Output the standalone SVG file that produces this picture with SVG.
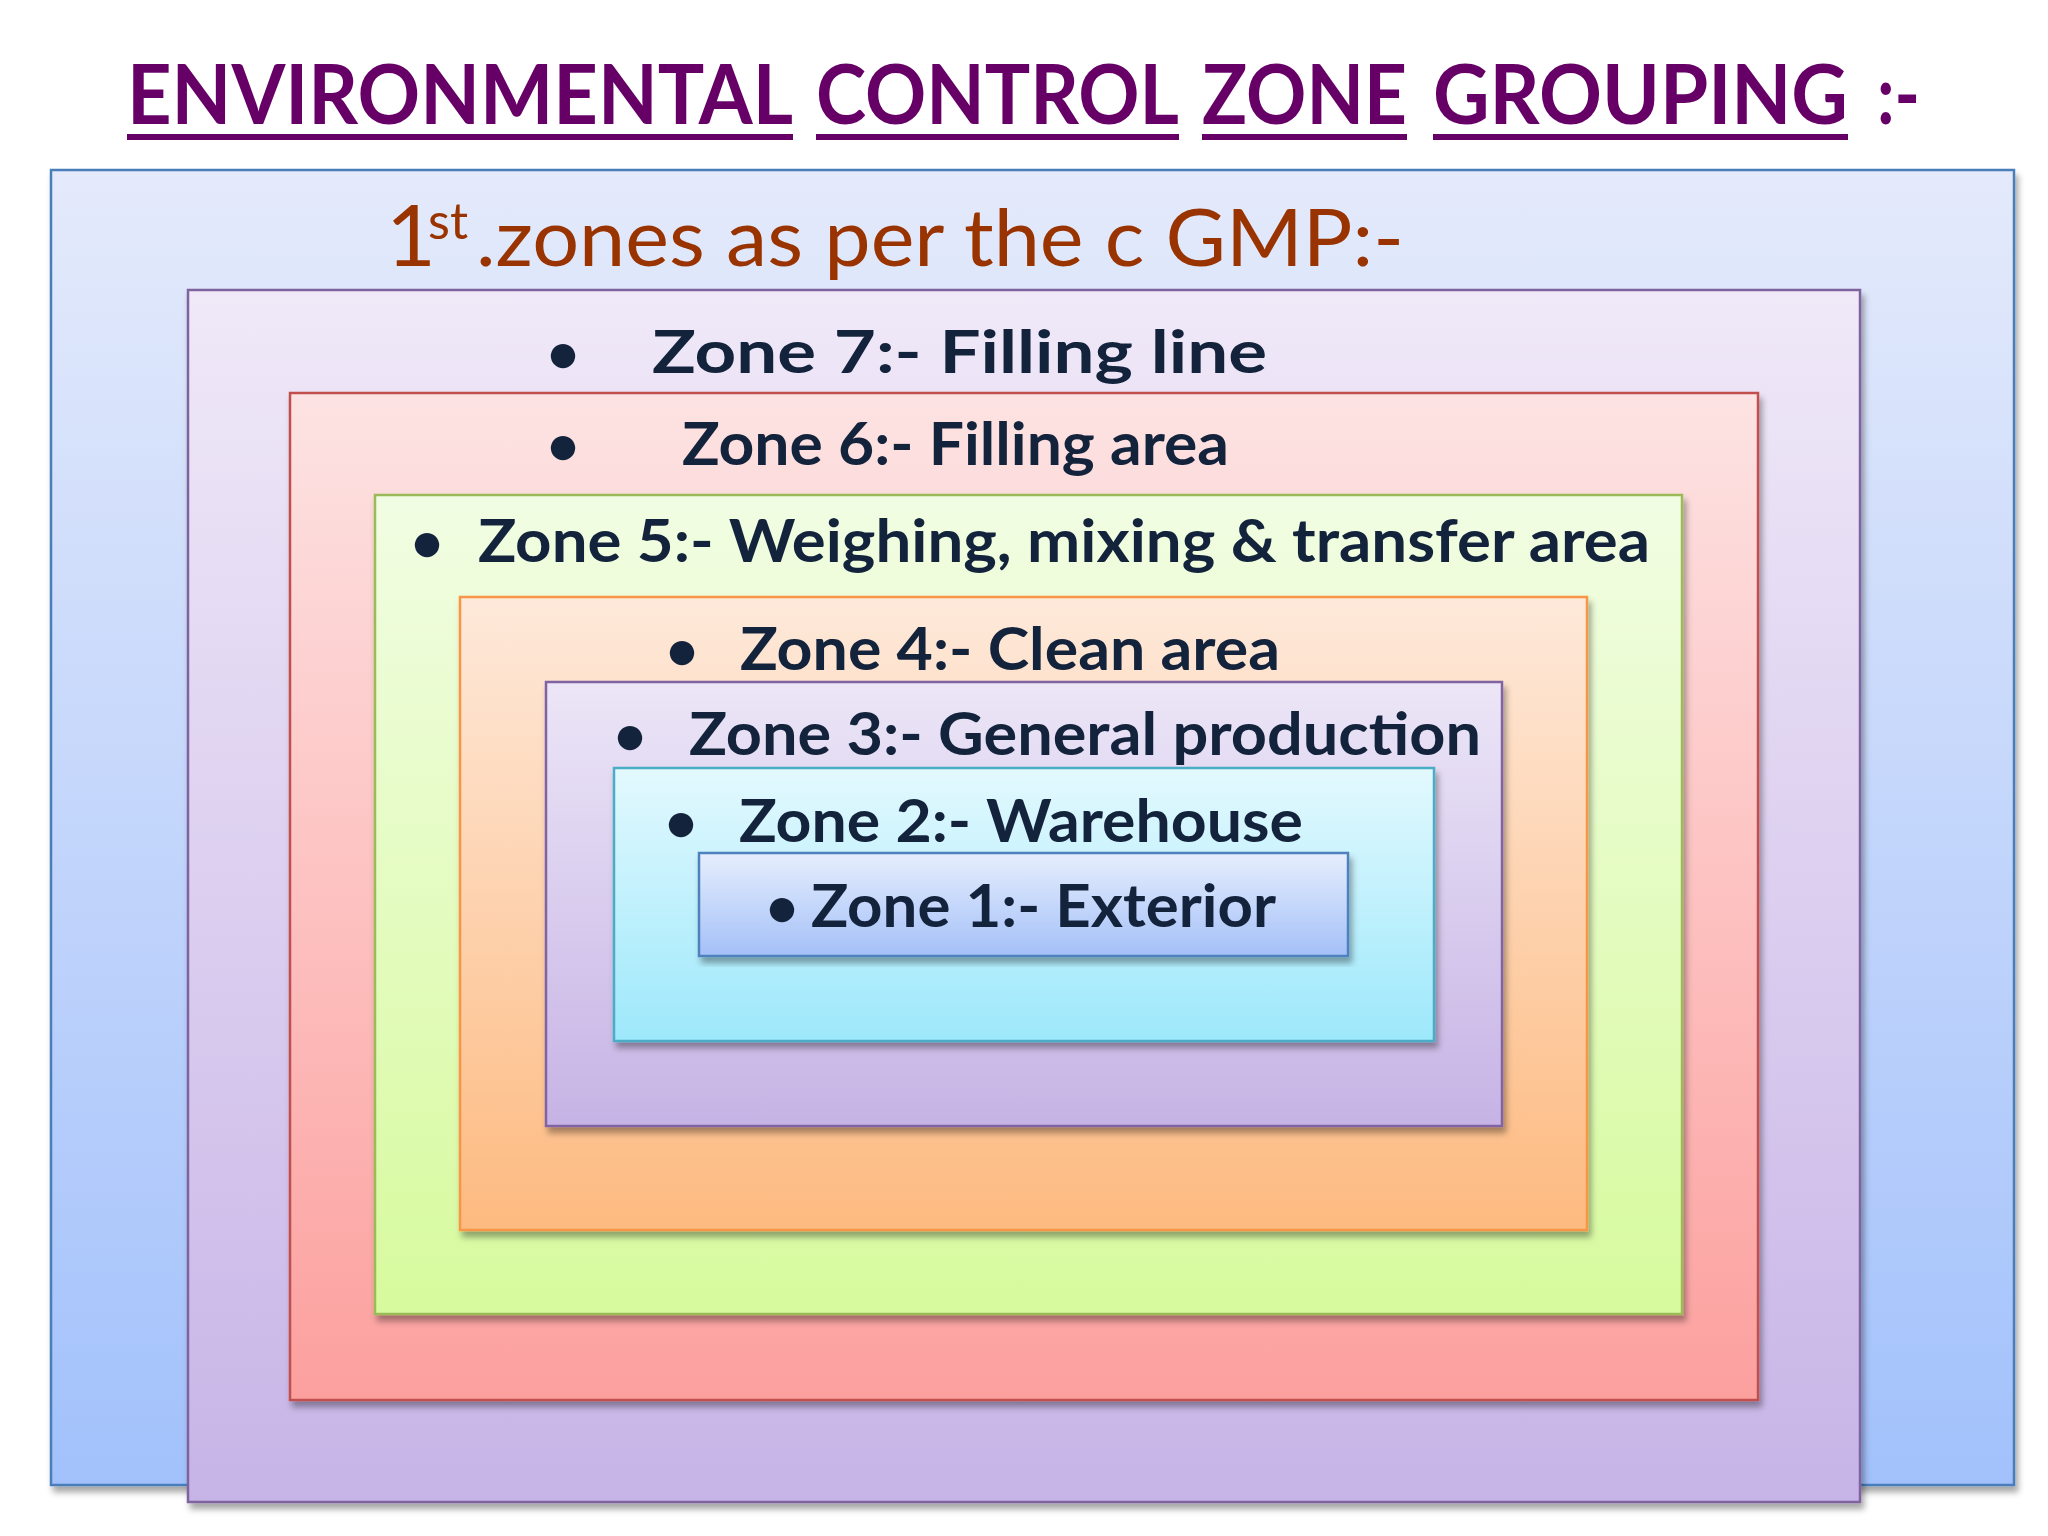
<svg xmlns="http://www.w3.org/2000/svg" width="2048" height="1536" viewBox="0 0 2048 1536">
<defs>
<linearGradient id="gBlue" x1="0" y1="0" x2="0" y2="1"><stop offset="0" stop-color="#e4eafb"/><stop offset="1" stop-color="#a2c1fb"/></linearGradient>
<linearGradient id="gPurple" x1="0" y1="0" x2="0" y2="1"><stop offset="0" stop-color="#f0e9f8"/><stop offset="1" stop-color="#c7b4e7"/></linearGradient>
<linearGradient id="gRed" x1="0" y1="0" x2="0" y2="1"><stop offset="0" stop-color="#fde3e3"/><stop offset="1" stop-color="#fca09e"/></linearGradient>
<linearGradient id="gGreen" x1="0" y1="0" x2="0" y2="1"><stop offset="0" stop-color="#f1fde3"/><stop offset="1" stop-color="#d7fa9d"/></linearGradient>
<linearGradient id="gOrange" x1="0" y1="0" x2="0" y2="1"><stop offset="0" stop-color="#fee9da"/><stop offset="1" stop-color="#fdba80"/></linearGradient>
<linearGradient id="gLav" x1="0" y1="0" x2="0" y2="1"><stop offset="0" stop-color="#ece6f7"/><stop offset="1" stop-color="#c6b3e5"/></linearGradient>
<linearGradient id="gCyan" x1="0" y1="0" x2="0" y2="1"><stop offset="0" stop-color="#e3f9fe"/><stop offset="1" stop-color="#9de8fb"/></linearGradient>
<linearGradient id="gSmall" x1="0" y1="0" x2="0" y2="1"><stop offset="0" stop-color="#e6eefd"/><stop offset="1" stop-color="#a4c0f8"/></linearGradient>
<filter id="sh" x="-5%" y="-5%" width="110%" height="115%"><feDropShadow dx="3" dy="6" stdDeviation="3" flood-color="#000" flood-opacity="0.35"/></filter>
</defs>
<style>
.box{stroke-width:2.5;filter:url(#sh)}
.z{font-family:Lato,"Open Sans","Liberation Sans",sans-serif;font-weight:bold;fill:#14233c;font-size:60px}
.b{font-family:Lato,"Liberation Sans",sans-serif;font-weight:bold;fill:#14233c;font-size:56px;text-anchor:middle}
.t{font-family:Lato,"Open Sans","Liberation Sans",sans-serif;font-weight:bold;fill:#660066;font-size:82px}
.s{font-family:Lato,"Open Sans","Liberation Sans",sans-serif;fill:#993300;font-size:80px}
</style>
<rect width="2048" height="1536" fill="#ffffff"/>
<g id="title">
<text class="t" x="127" y="124" textLength="666" lengthAdjust="spacingAndGlyphs">ENVIRONMENTAL</text>
<text class="t" x="816" y="124" textLength="363" lengthAdjust="spacingAndGlyphs">CONTROL</text>
<text class="t" x="1202" y="124" textLength="205" lengthAdjust="spacingAndGlyphs">ZONE</text>
<text class="t" x="1433" y="124" textLength="415" lengthAdjust="spacingAndGlyphs">GROUPING</text>
<text class="t" x="1877" y="124" textLength="43" lengthAdjust="spacingAndGlyphs">:-</text>
<rect x="127" y="134" width="666" height="6" fill="#660066"/>
<rect x="816" y="134" width="363" height="6" fill="#660066"/>
<rect x="1202" y="134" width="205" height="6" fill="#660066"/>
<rect x="1433" y="134" width="415" height="6" fill="#660066"/>
</g>
<g id="zone-outer">
<rect class="box" x="51" y="170" width="1963" height="1315" fill="url(#gBlue)" stroke="#4a7ebb"/>
<text class="s" y="266"><tspan x="386" font-size="86">1</tspan><tspan x="428" y="239" font-size="50" textLength="40" lengthAdjust="spacingAndGlyphs">st</tspan><tspan x="476" y="266" textLength="928" lengthAdjust="spacingAndGlyphs">.zones as per the c GMP:-</tspan></text>
</g>
<g id="zone7">
<rect class="box" x="188" y="290" width="1672" height="1212" fill="url(#gPurple)" stroke="#7e649e"/>
<text class="b" x="563" y="373" font-size="66">•</text>
<text class="z" x="652" y="373" font-size="71" textLength="615" lengthAdjust="spacingAndGlyphs">Zone 7:- Filling line</text>
</g>
<g id="zone6">
<rect class="box" x="290" y="393" width="1468" height="1007" fill="url(#gRed)" stroke="#c0504d"/>
<text class="b" x="563" y="465">•</text>
<text class="z" x="682" y="465" textLength="547" lengthAdjust="spacingAndGlyphs">Zone 6:- Filling area</text>
</g>
<g id="zone5">
<rect class="box" x="375" y="495" width="1307" height="819" fill="url(#gGreen)" stroke="#9bbb59"/>
<text class="b" x="427" y="562">•</text>
<text class="z" x="478" y="562" textLength="1172" lengthAdjust="spacingAndGlyphs">Zone 5:- Weighing, mixing &amp; transfer area</text>
</g>
<g id="zone4">
<rect class="box" x="460" y="597" width="1127" height="633" fill="url(#gOrange)" stroke="#f79646"/>
<text class="b" x="682" y="670">•</text>
<text class="z" x="740" y="670" textLength="540" lengthAdjust="spacingAndGlyphs">Zone 4:- Clean area</text>
</g>
<g id="zone3">
<rect class="box" x="546" y="682" width="956" height="444" fill="url(#gLav)" stroke="#8064a2"/>
<text class="b" x="630" y="755">•</text>
<text class="z" x="689" y="755" textLength="792" lengthAdjust="spacingAndGlyphs">Zone 3:- General production</text>
</g>
<g id="zone2">
<rect class="box" x="614" y="768" width="820" height="273" fill="url(#gCyan)" stroke="#4bacc6"/>
<text class="b" x="681" y="842">•</text>
<text class="z" x="739" y="842" textLength="564" lengthAdjust="spacingAndGlyphs">Zone 2:- Warehouse</text>
</g>
<g id="zone1">
<rect class="box" x="699" y="853" width="649" height="103" fill="url(#gSmall)" stroke="#4f81bd"/>
<text class="b" x="782" y="927">•</text>
<text class="z" x="811" y="927" textLength="465" lengthAdjust="spacingAndGlyphs">Zone 1:- Exterior</text>
</g>
<g id="connectors"/>
</svg>
